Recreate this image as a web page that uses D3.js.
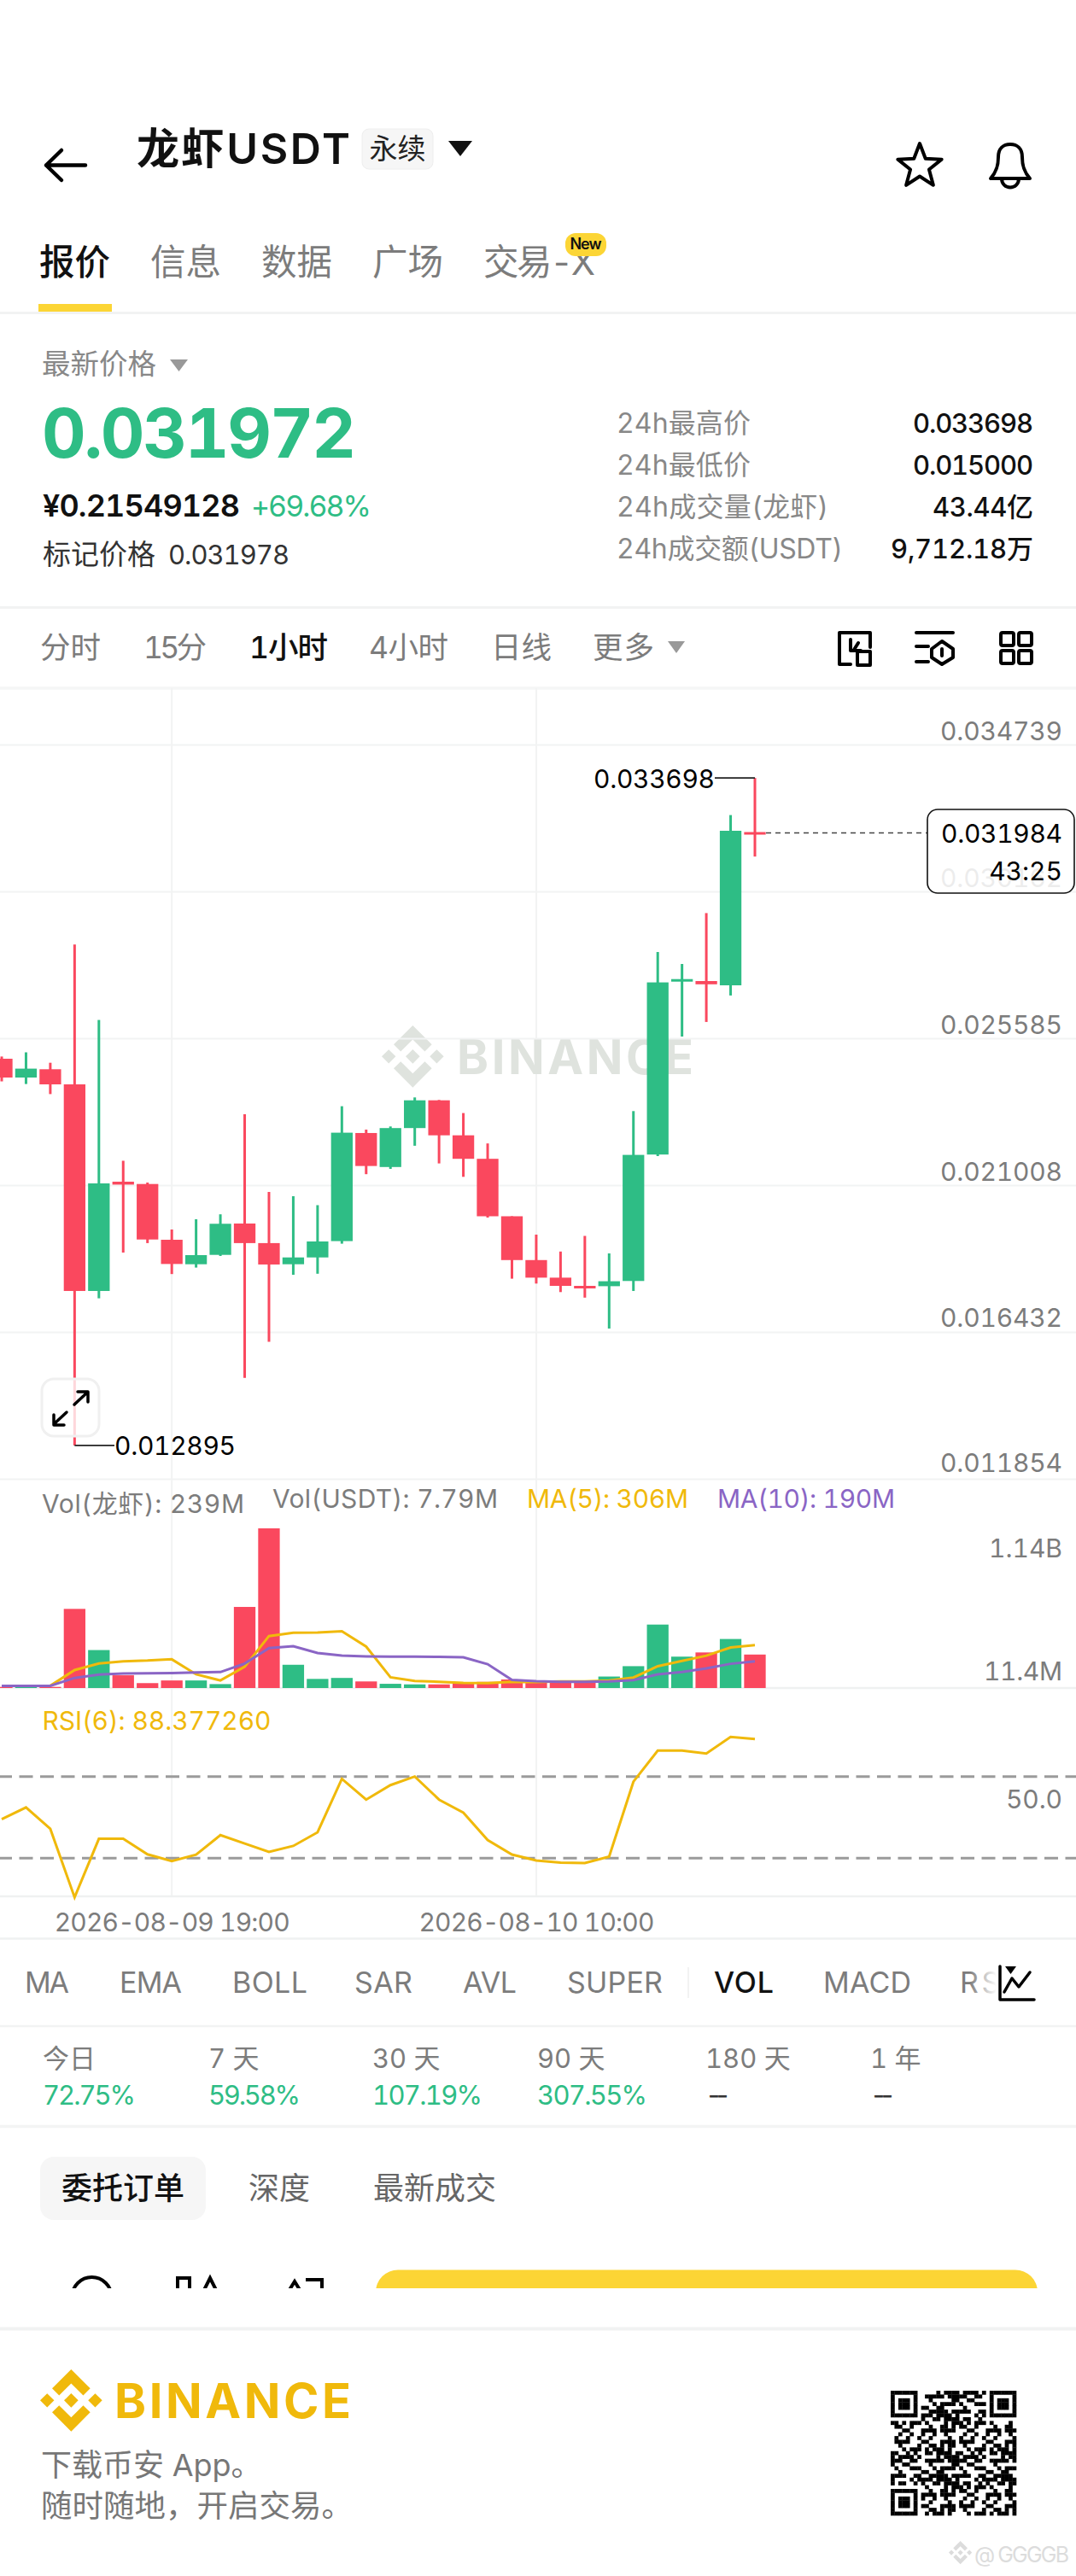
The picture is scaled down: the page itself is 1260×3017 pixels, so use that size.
<!DOCTYPE html>
<html lang="zh"><head><meta charset="utf-8">
<script src="https://cdn.jsdelivr.net/npm/d3@7"></script>
<style>html,body{margin:0;padding:0;background:#fff}svg{display:block;font-feature-settings:"tnum" 1,"calt" 0,"liga" 0}</style></head>
<body><div id="chart"></div>
<script>
const opens=[.024947,.024361,.024619,.024148,.017709,.021115,.021043,.019305,.018542,.018834,.019811,.019201,.018542,.018754,.019263,.022632,.021572,.022786,.023651,.02256,.021828,.020037,.018672,.018124,.017868,.017858,.01802,.021961,.027357,.027368,.027235,.032011];
const closes=[.024361,.024638,.024148,.017709,.021062,.021024,.019313,.01855,.018826,.019803,.019201,.018534,.018754,.019252,.022642,.021604,.022786,.023651,.02256,.021828,.020037,.018672,.018124,.017868,.017796,.018012,.02195,.027326,.027429,.027267,.032051,.031984];
const highs=[.025016,.025146,.024822,.028507,.026155,.021767,.021088,.019625,.019944,.020098,.023217,.020795,.020662,.020383,.023467,.022738,.022836,.023741,.023661,.023254,.022307,.020037,.019465,.018938,.019425,.01888,.023315,.028273,.0279,.029486,.032541,.033698];
const lows=[.024241,.024159,.023845,.012895,.01748,.018906,.019201,.018236,.018438,.0188,.015,.016125,.018214,.018246,.019183,.021349,.021514,.022235,.021684,.021266,.019997,.018092,.01794,.017674,.017501,.016538,.017709,.021913,.025638,.026093,.026918,.031248];
const volumes=[8,8,8,565,271,91,35,54,54,28,579,1140,166,65,72,47,30,26,26,40,44,61,44,40,40,82,156,453,224,254,350,239];
const volMA5=[16,16,16,128,175,191,196,205,98,54,152,371,394,397,406,296,77,51,44,37,35,44,42,47,47,54,75,156,194,231,289,306];
const volMA10=[16,16,16,72,96,103,105,107,112,114,175,285,299,250,231,226,224,224,222,219,170,58,49,44,44,47,56,98,114,140,173,190];
const rsi=[49.1,54.9,44.4,10.8,39.5,39.5,31.9,28.6,31.7,41.3,37.2,33.1,36,42.7,68.9,58.7,65.8,70,58.7,52.3,38.9,31.8,28.9,27.8,27.6,30.8,67.5,82.7,82.7,81.3,89.4,88.4];
const priceTicks=[.034739,.030162,.025585,.021008,.016432,.011854];
const timeTicks=[7,22];
const timeLabels=["2026-08-09 19:00","2026-08-10 10:00"];
const tabs=["报价","信息","数据","广场","交易-X"];
const intervals=["分时","15分","1小时","4小时","日线","更多"];
const indicators=["MA","EMA","BOLL","SAR","AVL","SUPER","VOL","MACD","RSI"];
const statLabels=["24h最高价","24h最低价","24h成交量(龙虾)","24h成交额(USDT)"];
const statValues=["0.033698","0.015000","43.44亿","9,712.18万"];
const periodLabels=["今日","7 天","30 天","90 天","180 天","1 年"];
const periodValues=["72.75%","59.58%","107.19%","307.55%","--","--"];
const bookTabs=["委托订单","深度","最新成交"];

const W=1260,H=3017;
const FONT='Inter,"Noto Sans CJK SC",sans-serif';
const GREEN='#2ebd85',RED='#fa485e',GOLD='#f0b90b',YEL='#fcd535',PURPLE='#8a65c5',GREY='#7c7c7c',BLACK='#000',LINE='#f2f3f3';
const svg=d3.select('#chart').append('svg').attr('width',W).attr('height',H).attr('viewBox',`0 0 ${W} ${H}`).style('font-family',FONT);
svg.append('rect').attr('width',W).attr('height',H).attr('fill','#fff');
function T(x,y,s,o={}){const t=svg.append('text').attr('x',x).attr('y',y).text(s).attr('font-size',o.size||30).attr('fill',o.fill||GREY).attr('font-weight',o.weight||400).attr('text-anchor',o.anchor||'start').attr('font-family',o.font||FONT);if(o.len)t.attr('textLength',o.len).attr('lengthAdjust','spacing');return t;}
function HL(y,w=2.5,c=LINE,x0=0,x1=W){svg.append('line').attr('x1',x0).attr('x2',x1).attr('y1',y).attr('y2',y).attr('stroke',c).attr('stroke-width',w);}
const LOGO="M38.73 53.2l24.59-24.58 24.6 24.6 14.3-14.31L63.32 0l-38.9 38.9zM0 63.31l14.3-14.31 14.31 14.31-14.31 14.3zM38.73 73.41l24.59 24.59 24.6-24.6 14.31 14.29-38.9 38.91-38.91-38.88v-.03zM98 63.31l14.3-14.31 14.31 14.3-14.31 14.32zM77.83 63.3L63.32 48.78 52.59 59.51l-1.24 1.23-2.54 2.54 14.51 14.5 14.51-14.47z";
function logo(x,y,s,c){svg.append('path').attr('d',LOGO).attr('transform',`translate(${x},${y}) scale(${s})`).attr('fill',c);}
function P(d,o={}){return svg.append('path').attr('d',d).attr('fill',o.fill||'none').attr('stroke',o.stroke||'none').attr('stroke-width',o.w||4).attr('stroke-linejoin','round').attr('stroke-linecap',o.cap||'round');}

// ---------- header ----------
P('M100 193.5H54M72 176L54 193.5L72 211',{stroke:BLACK,w:4.5});
T(160,192,'龙虾USDT',{size:50,fill:'#111',weight:600,len:250});
svg.append('rect').attr('x',424).attr('y',151).attr('width',83).attr('height',47).attr('rx',8).attr('fill','#f6f6f6').attr('stroke','#eeeeee');
T(465.5,186,'永续',{size:33,fill:'#222',anchor:'middle'});
P('M525 165H553L539 183Z',{fill:'#111'});
const star=d3.range(10).map(i=>{const r=i%2?11.5:27,a=-Math.PI/2+i*Math.PI/5;return [1077+r*Math.cos(a),195+r*Math.sin(a)];});
P('M'+star.join('L')+'Z',{stroke:BLACK,w:4});
P('M1160 209H1206C1198 200 1197 192 1197 184C1197 174 1191 169 1183 169C1175 169 1169 174 1169 184C1169 192 1168 200 1160 209ZM1173 209C1173 223 1193 223 1193 209',{stroke:BLACK,w:4});

const tabX=[46,176,306,436,566],tabLen=[83,83,83,83,131];
tabs.forEach((t,i)=>T(tabX[i],322,t,{size:41.5,fill:i?GREY:'#111',weight:i?400:500,len:tabLen[i]}));
svg.append('rect').attr('x',45).attr('y',356).attr('width',86).attr('height',9).attr('fill',YEL);
svg.append('rect').attr('x',662).attr('y',273).attr('width',48).attr('height',27).attr('rx',12).attr('fill',YEL);
T(686,292,'New',{size:18,fill:'#111',weight:600,anchor:'middle',len:37});
HL(366.5,3);

T(49,438,'最新价格',{size:33.5,fill:'#888'});
P('M199 421H220L209.5 435Z',{fill:'#999'});
T(49,536,'0.031972',{size:80,fill:GREEN,weight:700,len:368});
T(50,605,'¥0.21549128',{size:36,fill:'#111',weight:600,len:231});
T(294,605,'+69.68%',{size:34,fill:GREEN,weight:400,len:141});
T(50,661,'标记价格',{size:33,fill:'#333'});
T(197,661,'0.031978',{size:31,fill:'#333',len:142});
const statY=[507,556,605,654];
const statLen=[157,157,248,265],valLen=[141,141,118,167];
statLabels.forEach((s,i)=>T(722,statY[i],s,{size:32,fill:'#888',len:statLen[i]}));
statValues.forEach((s,i)=>T(1210-valLen[i],statY[i],s,{size:31,fill:'#111',weight:500,len:valLen[i]}));
HL(711.5,3);

const intX=[47,168,292,432,575,694],intLen=[71,74,92,93,71,72];
intervals.forEach((t,i)=>T(intX[i],771,t,{size:35.5,fill:i==2?'#111':GREY,weight:i==2?500:400,len:intLen[i]}));
P('M782 751H802L792 765Z',{fill:'#999'});
P('M1019 758V741H983V778H996M1005 753L1000 761M996 749V762H1008M1004 763H1019V779H1004Z',{stroke:BLACK,w:4});
P('M1073 741H1116M1073 757H1087M1073 775H1087M1103 751L1116 760V770L1103 778L1091 770V760ZM1103 760V768',{stroke:BLACK,w:4});
[[1172,741],[1193,741],[1172,762],[1193,762]].forEach(p=>svg.append('rect').attr('x',p[0]).attr('y',p[1]).attr('width',15).attr('height',15).attr('rx',2).attr('fill','none').attr('stroke',BLACK).attr('stroke-width',4));

// ---------- scales ----------
const x=d3.scaleLinear().domain([0,31]).range([2,884]);
const y=d3.scaleLinear().domain([.034739,.011854]).range([872,1732]);
const yVol=d3.scaleLinear().domain([0,1140]).range([1977,1790]);
const yRsi=d3.scaleLinear().domain([70,30]).range([2080.7,2176.3]);
const BODY=25.3,WICK=3;

// ---------- grid and axes ----------
HL(806,3.5,'#f5f6f6');
const gridG=svg.append('g');
gridG.selectAll('line.v').data(timeTicks).join('line').attr('x1',d=>x(d)).attr('x2',d=>x(d)).attr('y1',806).attr('y2',2221).attr('stroke',LINE).attr('stroke-width',2);
logo(447,1201,.574,'#dfe3de');
T(535,1258,'BINANCE',{size:56,fill:'#dfe3de',weight:700,len:277});
const priceAxis=d3.axisRight(y).tickValues(priceTicks).tickSize(W).tickFormat(d=>d.toFixed(6));
const pg=svg.append('g').call(priceAxis);
pg.select('.domain').remove();
pg.selectAll('.tick line').attr('stroke',LINE).attr('stroke-width',2);
pg.selectAll('.tick text').attr('x',1244).attr('y',0).attr('dy',(d,i)=>i==5?-9:-6).attr('text-anchor','end').attr('font-size',30).attr('font-family',FONT).attr('fill',GREY).attr('textLength',143);
HL(1977,2.5,'#eff1f1'); HL(2221,2.5,'#eff1f1'); HL(2270.5,2.5,'#eff1f1');

// ---------- candles ----------
const cg=svg.append('g');
const idx=d3.range(opens.length);
const col=i=>closes[i]>=opens[i]?GREEN:RED;
cg.selectAll('rect.w').data(idx).join('rect').attr('x',i=>x(i)-WICK/2).attr('width',WICK).attr('y',i=>y(highs[i])).attr('height',i=>y(lows[i])-y(highs[i])).attr('fill',col);
cg.selectAll('rect.b').data(idx).join('rect').attr('x',i=>x(i)-BODY/2).attr('width',BODY)
 .attr('y',i=>y(Math.max(opens[i],closes[i]))).attr('height',i=>Math.max(3,Math.abs(y(opens[i])-y(closes[i])))).attr('fill',col);

// high / low markers
svg.append('path').attr('d',`M${x(31)} ${y(highs[31])}H837`).attr('stroke','#222').attr('stroke-width',1.6);
T(695,923,'0.033698',{size:30,fill:BLACK,len:142});
svg.append('path').attr('d',`M${x(3)} ${y(lows[3])}H134`).attr('stroke','#222').attr('stroke-width',1.6);
T(134,1704,'0.012895',{size:30,fill:BLACK,len:142});

// last price tag
svg.append('line').attr('x1',897).attr('x2',1086).attr('y1',y(closes[31])).attr('y2',y(closes[31])).attr('stroke','#444').attr('stroke-width',1.6).attr('stroke-dasharray','6 5');
svg.append('rect').attr('x',1086).attr('y',948).attr('width',172).attr('height',98).attr('rx',12).attr('fill','#fff').attr('fill-opacity',.86).attr('stroke','#111').attr('stroke-width',1.6);
T(1244-142,987,'0.031984',{size:30,fill:BLACK,len:142});
T(1244,1031,'43:25',{size:30,fill:BLACK,anchor:'end'});

// expand button
svg.append('rect').attr('x',49).attr('y',1615).attr('width',67).attr('height',67).attr('rx',14).attr('fill','#fff').attr('fill-opacity',.78).attr('stroke','#f0f0f0').attr('stroke-width',3);
P('M87 1645L102 1631M91 1630H103V1642M78 1654L63 1668M75 1669H63V1657',{stroke:BLACK,w:3.5});

// ---------- volume ----------
T(49,1772,'Vol(龙虾): 239M',{size:30,fill:GREY,len:237});
T(319,1765.5,'Vol(USDT): 7.79M',{size:30,fill:GREY,len:264});
T(617,1765.5,'MA(5): 306M',{size:30,fill:GOLD,len:189});
T(840,1765.5,'MA(10): 190M',{size:30,fill:PURPLE,len:208});
T(1244-86,1823.6,'1.14B',{size:30,len:86});
T(1244-92,1968.3,'11.4M',{size:30,len:92});
svg.append('g').selectAll('rect').data(idx).join('rect').attr('x',i=>x(i)-BODY/2).attr('width',BODY).attr('y',i=>yVol(volumes[i])).attr('height',i=>1977-yVol(volumes[i])).attr('fill',col);
const lv=d3.line().x((d,i)=>x(i)).y(d=>yVol(d));
svg.append('path').attr('d',lv(volMA5)).attr('fill','none').attr('stroke',GOLD).attr('stroke-width',3);
svg.append('path').attr('d',lv(volMA10)).attr('fill','none').attr('stroke',PURPLE).attr('stroke-width',3);

// ---------- RSI ----------
T(49.5,2025.7,'RSI(6): 88.377260',{size:30,fill:GOLD,len:268});
[70,30].forEach(v=>svg.append('line').attr('x1',0).attr('x2',W).attr('y1',yRsi(v)).attr('y2',yRsi(v)).attr('stroke','#9b9b9b').attr('stroke-width',3).attr('stroke-dasharray','16 8.5').attr('stroke-dashoffset',2));
T(1244-66,2118,'50.0',{size:30,len:66});
const lr=d3.line().x((d,i)=>x(i)).y(d=>yRsi(d));
svg.append('path').attr('d',lr(rsi)).attr('fill','none').attr('stroke',GOLD).attr('stroke-width',3);

// time axis
const tg=svg.append('g').attr('transform','translate(0,2221)').call(d3.axisBottom(x).tickValues(timeTicks).tickSize(0).tickFormat((d,i)=>timeLabels[i]));
tg.select('.domain').remove();
tg.selectAll('text').attr('y',40.7).attr('dy',0).attr('font-size',30).attr('font-family',FONT).attr('fill',GREY).attr('textLength',276);

// ---------- indicators ----------
const indX=[29,140,272,415,542,664,836,964,1124],indLen=[52,73,88,68,63,112,70,103,60];
indicators.forEach((t,i)=>T(indX[i],2334,t,{size:34,fill:i==6?'#111':GREY,weight:i==6?500:400,len:indLen[i]}));
svg.append('line').attr('x1',806).attr('x2',806).attr('y1',2304).attr('y2',2340).attr('stroke','#eeeeee').attr('stroke-width',1.5);
const defs=svg.append('defs');
const gr=defs.append('linearGradient').attr('id','fade');
gr.append('stop').attr('offset','0').attr('stop-color','#fff').attr('stop-opacity',0);
gr.append('stop').attr('offset','1').attr('stop-color','#fff').attr('stop-opacity',1);
svg.append('rect').attr('x',1135).attr('y',2296).attr('width',32).attr('height',50).attr('fill','url(#fade)');
svg.append('rect').attr('x',1167).attr('y',2296).attr('width',48).attr('height',50).attr('fill','#fff');
P('M1171 2303V2342H1211M1176 2333L1185 2317L1193 2327L1206 2310',{stroke:BLACK,w:3.5});
P('M1177 2303H1190L1183.5 2312Z',{fill:BLACK});
HL(2373,2.5,'#f2f3f3');

const perX=[50,244,436,629,826,1019],perLen=[109,108,129,129,30,30];
periodLabels.forEach((t,i)=>T(perX[i],2422,t,{size:31,fill:GREY}));
periodValues.forEach((t,i)=>T(perX[i],2465,t,{size:31,fill:t=='--'?'#333':GREEN,len:perLen[i]}));
HL(2490.5,3.5,'#f3f4f4');

svg.append('rect').attr('x',47).attr('y',2526).attr('width',194).attr('height',74).attr('rx',16).attr('fill','#f6f6f6');
const bookX=[72,291,437];
bookTabs.forEach((t,i)=>T(bookX[i],2576,t,{size:36,fill:i?'#666':'#111',weight:i?400:500}));

// partial action row
const cl=defs.append('clipPath').attr('id','cut');cl.append('rect').attr('x',0).attr('y',2600).attr('width',W).attr('height',80);
const ag=svg.append('g').attr('clip-path','url(#cut)');
ag.append('circle').attr('cx',107.5).attr('cy',2690).attr('r',23).attr('fill','none').attr('stroke',BLACK).attr('stroke-width',4);
ag.append('path').attr('d','M208 2690V2668H222V2690M235 2690L246 2668L257 2690').attr('fill','none').attr('stroke',BLACK).attr('stroke-width',4);
ag.append('path').attr('d','M334 2690L345 2672L356 2690M358 2670H377V2690').attr('fill','none').attr('stroke',BLACK).attr('stroke-width',4);
ag.append('rect').attr('x',440).attr('y',2658.5).attr('width',775).attr('height',70).attr('rx',26).attr('fill',YEL);
HL(2727.5,4,'#f1f2f2');

// ---------- footer ----------
logo(47,2775,.574,GOLD);
T(134,2832,'BINANCE',{size:56,fill:GOLD,weight:700,len:277});
T(48,2900,'下载币安 App。',{size:36,fill:'#777'});
T(48,2948,'随时随地，开启交易。',{size:36.5,fill:'#777'});

// QR pattern drawn on a module grid
const N=33,qx=1043,qy=2800,qs=147/N,qsy=146/N;
const qg=svg.append('g');
function mod(a,b){qg.append('rect').attr('x',qx+a*qs).attr('y',qy+b*qsy).attr('width',qs+.3).attr('height',qsy+.3).attr('fill',BLACK);}
function inF(a,b,fx,fy){return a>=fx-1&&a<fx+8&&b>=fy-1&&b<fy+8;}
function finder(a,b,fx,fy){const u=a-fx,v=b-fy;if(u<0||v<0||u>6||v>6)return false;return u==0||v==0||u==6||v==6||(u>=2&&u<=4&&v>=2&&v<=4);}
for(let b=0;b<N;b++)for(let a=0;a<N;a++){
 const fs=[[0,0],[N-7,0],[0,N-7]];
 if(fs.some(f=>inF(a,b,f[0],f[1]))){if(fs.some(f=>finder(a,b,f[0],f[1])))mod(a,b);continue;}
 const h=(a*a*7+b*b*13+a*b*5+a*3+b*11)%17;
 if(h<8)mod(a,b);
}
logo(1111,2976,.215,'#dcdcdc');
T(1141,3001,'@ GGGGB',{size:25,fill:'#dcdcdc',len:111});
</script></body></html>
